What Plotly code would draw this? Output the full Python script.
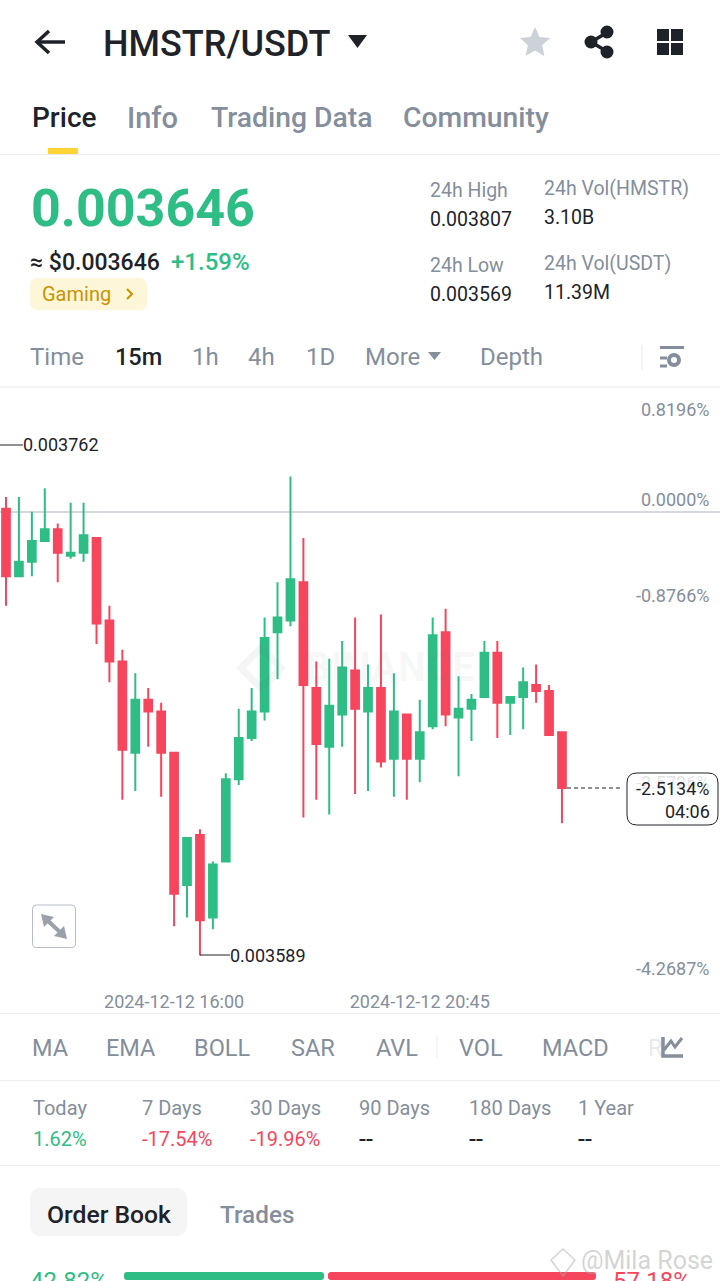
import math
import pandas
import plotly.graph_objects as go

W = 720
H = 1281
DARK = "#1E2329"
GREY = "#848E9C"
GREEN = "#2EBD85"
RED = "#F6465D"
LINE = "#EAECEF"
FONT = "Roboto"

# 15m candles, first one is 12:45
start_time = "2024-12-12 12:45"
opens = [0.003741, 0.003718, 0.003723, 0.003730, 0.003734, 0.003725, 0.003726, 0.003731, 0.003703, 0.003689, 0.003658,
         0.003676, 0.003672, 0.003658, 0.003613, 0.003630, 0.003602, 0.003621, 0.003649, 0.003663, 0.003672, 0.003699,
         0.003703, 0.003716, 0.003680, 0.003660, 0.003671, 0.003686, 0.003672, 0.003680, 0.003656, 0.003671, 0.003656,
         0.003667, 0.003699, 0.003670, 0.003673, 0.003677, 0.003692, 0.003675, 0.003677, 0.003681, 0.003679, 0.003665]
highs = [0.003745, 0.003745, 0.003740, 0.003748, 0.003736, 0.003743, 0.003743, 0.003731, 0.003708, 0.003693, 0.003685,
         0.003680, 0.003675, 0.003658, 0.003629, 0.003632, 0.003621, 0.003651, 0.003673, 0.003680, 0.003704, 0.003716,
         0.003752, 0.003731, 0.003689, 0.003690, 0.003696, 0.003704, 0.003688, 0.003705, 0.003685, 0.003671, 0.003676,
         0.003704, 0.003707, 0.003684, 0.003678, 0.003696, 0.003696, 0.003677, 0.003687, 0.003688, 0.003681, 0.003665]
lows = [0.003708, 0.003718, 0.003718, 0.003730, 0.003716, 0.003724, 0.003723, 0.003695, 0.003682, 0.003642, 0.003645,
        0.003660, 0.003643, 0.003599, 0.003602, 0.003589, 0.003598, 0.003621, 0.003647, 0.003662, 0.003669, 0.003683,
        0.003701, 0.003636, 0.003642, 0.003637, 0.003660, 0.003644, 0.003645, 0.003653, 0.003643, 0.003642, 0.003648,
        0.003666, 0.003667, 0.003650, 0.003662, 0.003677, 0.003663, 0.003664, 0.003666, 0.003675, 0.003664, 0.003634]
closes = [0.003718, 0.003723, 0.003730, 0.003734, 0.003726, 0.003726, 0.003732, 0.003702, 0.003689, 0.003659, 0.003676,
          0.003672, 0.003658, 0.003610, 0.003629, 0.003601, 0.003620, 0.003649, 0.003663, 0.003672, 0.003697, 0.003704,
          0.003717, 0.003681, 0.003661, 0.003674, 0.003687, 0.003673, 0.003680, 0.003655, 0.003672, 0.003656, 0.003665,
          0.003698, 0.003671, 0.003673, 0.003676, 0.003692, 0.003675, 0.003677, 0.003682, 0.003679, 0.003664, 0.003646]

base_price = 0.003740
last_price = 0.003646
high_mark = 0.003762
low_mark = 0.003589
pct_ticks = ["0.8196%", "0.0000%", "-0.8766%", "-2.5726%", "-4.2687%"]
pct_values = [0.8196, 0.0, -0.8766, -2.5726, -4.2687]
date_ticks = ["2024-12-12 16:00", "2024-12-12 20:45"]

stat_names = ["Today", "7 Days", "30 Days", "90 Days", "180 Days", "1 Year"]
stat_values = ["1.62%", "-17.54%", "-19.96%", "--", "--", "--"]


# everything outside the plot is placed in page pixels
def px(x):
    return x / W

def py(y):
    return 1 - y / H

annotations = []
shapes = []

def txt(x, y, s, size, color=GREY, weight=400, anchor="left"):
    # annotations carry about 1px of padding
    x = x + 1 if anchor == "right" else x - 1
    annotations.append(dict(x=px(x), y=py(y), xref="paper", yref="paper", text=s, showarrow=False,
                            xanchor=anchor, yanchor="middle", borderpad=0,
                            font=dict(family=FONT, size=size, color=color, weight=weight)))

def poly(points, fill=None, color=None, width=0, close=True):
    d = "M" + " L".join(f"{px(x):.5f},{py(y):.5f}" for x, y in points)
    if close:
        d += " Z"
    shapes.append(dict(type="path", xref="paper", yref="paper", path=d, fillcolor=fill,
                       line=dict(color=color, width=width)))

def hline(x0, x1, y, color=LINE, width=1, dash="solid"):
    shapes.append(dict(type="line", xref="paper", yref="paper", x0=px(x0), x1=px(x1), y0=py(y), y1=py(y),
                       line=dict(color=color, width=width, dash=dash)))

def vline(x, y0, y1, color=LINE, width=1):
    shapes.append(dict(type="line", xref="paper", yref="paper", x0=px(x), x1=px(x), y0=py(y0), y1=py(y1),
                       line=dict(color=color, width=width)))

def round_rect(x0, y0, x1, y1, r, fill=None, color=None, width=0):
    d = (f"M{px(x0 + r):.5f},{py(y0):.5f} L{px(x1 - r):.5f},{py(y0):.5f} Q{px(x1):.5f},{py(y0):.5f} {px(x1):.5f},{py(y0 + r):.5f} "
         f"L{px(x1):.5f},{py(y1 - r):.5f} Q{px(x1):.5f},{py(y1):.5f} {px(x1 - r):.5f},{py(y1):.5f} "
         f"L{px(x0 + r):.5f},{py(y1):.5f} Q{px(x0):.5f},{py(y1):.5f} {px(x0):.5f},{py(y1 - r):.5f} "
         f"L{px(x0):.5f},{py(y0 + r):.5f} Q{px(x0):.5f},{py(y0):.5f} {px(x0 + r):.5f},{py(y0):.5f} Z")
    shapes.append(dict(type="path", xref="paper", yref="paper", path=d, fillcolor=fill,
                       line=dict(color=color, width=width)))

def circle(x, y, r, fill=None, color=None, width=0):
    shapes.append(dict(type="circle", xref="paper", yref="paper", x0=px(x - r), x1=px(x + r), y0=py(y + r), y1=py(y - r),
                       fillcolor=fill, line=dict(color=color, width=width)))

# header
poly([(65, 42), (37, 42)], color=DARK, width=3.5, close=False)
poly([(49, 31), (37, 42), (49, 53)], color=DARK, width=3.5, close=False)
txt(103, 44, "HMSTR/USDT", 36, DARK, 500)
poly([(348, 35), (367, 35), (357.5, 48)], fill=DARK)
star = []
for i in range(10):
    r = 16 if i % 2 == 0 else 7.5
    a = -math.pi / 2 + i * math.pi / 5
    star.append((535 + r * math.cos(a), 43 + r * math.sin(a)))
poly(star, fill="#CDD2D9")
poly([(608, 32), (591, 42), (608, 52)], color=DARK, width=3.5, close=False)
circle(607, 32, 6.5, fill=DARK)
circle(591, 42, 6.5, fill=DARK)
circle(607, 52, 6.5, fill=DARK)
for x0 in (657, 671):
    for y0 in (29, 43):
        shapes.append(dict(type="rect", xref="paper", yref="paper", x0=px(x0), x1=px(x0 + 12), y0=py(y0), y1=py(y0 + 12),
                           fillcolor=DARK, line=dict(width=0)))

# tabs
txt(32, 118, "Price", 28, DARK, 500)
txt(127, 118, "Info", 29, GREY, 500)
txt(211, 118, "Trading Data", 28.3, GREY, 500)
txt(403, 118, "Community", 28.3, GREY, 500)
shapes.append(dict(type="rect", xref="paper", yref="paper", x0=px(48), x1=px(78), y0=py(148), y1=py(154),
                   fillcolor="#FCD535", line=dict(width=0)))
hline(0, 720, 154.5)

# price block
txt(31, 209, "0.003646", 52, GREEN, 700)
txt(30, 262, "≈ $0.003646", 23, DARK, 500)
txt(171, 262, "+1.59%", 24, GREEN, 500)
round_rect(30, 278, 147, 310, 8, fill="#FEF6D8")
txt(42, 294, "Gaming", 20, "#C99400")
poly([(127, 289), (132, 294), (127, 299)], color="#C99400", width=2, close=False)
txt(430, 191, "24h High", 19.5)
txt(430, 220, "0.003807", 19.5, DARK)
txt(544, 189, "24h Vol(HMSTR)", 19.5)
txt(544, 218, "3.10B", 19.5, DARK)
txt(430, 265, "24h Low", 19.5)
txt(430, 294, "0.003569", 19.5, DARK)
txt(544, 263, "24h Vol(USDT)", 19.5)
txt(544, 292, "11.39M", 19.5, DARK)

# interval row
txt(30, 357, "Time", 24)
txt(115, 357, "15m", 23.5, DARK, 500)
txt(192, 357, "1h", 24)
txt(248, 357, "4h", 24)
txt(306, 357, "1D", 24)
txt(365, 357, "More", 24)
poly([(428, 352), (441, 352), (434.5, 360)], fill=GREY)
txt(480, 357, "Depth", 24)
vline(642, 345, 370)
hline(660, 684, 347.5, GREY, 3)
hline(660, 667, 358, GREY, 3)
hline(660, 667, 366, GREY, 3)
circle(674, 360, 5, color=GREY, width=4)
hline(0, 720, 387)

# chart extras
txt(305, 667, "<b>BINANCE</b>", 40, "rgba(120,130,140,0.07)")
poly([(261, 648), (281, 668), (261, 688), (241, 668)], color="rgba(120,130,140,0.08)", width=7)
for s, v in zip(pct_ticks, pct_values):
    tick_color = "rgba(132,142,156,0.25)" if s == "-2.5726%" else GREY
    annotations.append(dict(x=px(712), y=base_price * (1 + v / 100), xref="paper", yref="y", text=s, showarrow=False,
                            xanchor="right", yanchor="bottom", font=dict(family=FONT, size=18, color=tick_color)))
# high / low marks
hline(0, 23, 445, DARK, 1)
txt(23, 445, f"{high_mark:.6f}", 18, DARK)
hline(200, 230, 955, DARK, 1)
txt(230, 955, f"{low_mark:.6f}", 18, DARK)
# last price tag
hline(567, 622, 788, DARK, 1, "4px,3px")
round_rect(627, 773, 718, 825, 10, fill="rgba(255,255,255,0.85)", color=DARK, width=1)
txt(710, 788, "-2.5134%", 18, DARK, anchor="right")
txt(710, 811, "04:06", 18, DARK, anchor="right")
# expand button
round_rect(32.5, 905, 75.5, 947.5, 4, fill="white", color="#B7BDC6", width=1)
poly([(41, 914), (54, 917), (44, 927)], fill="#9AA1AB")
poly([(67, 939), (54, 936), (64, 926)], fill="#9AA1AB")
poly([(47, 920), (61, 933)], color="#9AA1AB", width=4, close=False)
hline(0, 720, 1013.5)

# indicator row
for s, x in zip(["MA", "EMA", "BOLL", "SAR", "AVL", "VOL", "MACD"], [32, 106, 194, 291, 376, 459, 542]):
    txt(x, 1048, s, 23.5)
txt(648, 1048, "R", 24, "rgba(132,142,156,0.2)")
vline(437, 1036, 1058)
round_rect(658, 1030, 690, 1064, 2, fill="white")
poly([(663, 1037), (663, 1056), (683, 1056)], color=GREY, width=3.5, close=False)
poly([(664, 1050), (671, 1041), (675, 1047), (682, 1038)], color=GREY, width=3, close=False)
hline(0, 720, 1080.5)

# stats row
for name, value, x in zip(stat_names, stat_values, [33, 142, 250, 359, 469, 578]):
    txt(x, 1108, name, 20)
    c = DARK if value == "--" else (RED if value.startswith("-") else GREEN)
    txt(x, 1139, value, 25 if value == "--" else 20, c)
hline(0, 720, 1165.5)

# order book
round_rect(30, 1188, 187, 1236, 12, fill="#F5F5F5")
txt(47, 1214, "Order Book", 24.7, DARK, 500)
txt(220, 1214, "Trades", 24.3, GREY, 500)
txt(30, 1281, "42.82%", 24, GREEN)
round_rect(124, 1272, 324, 1280, 3, fill=GREEN)
round_rect(328, 1272, 596, 1280, 3, fill=RED)
txt(613, 1281, "57.18%", 24, RED)
txt(581, 1260, "@Mila Rose", 25, "rgba(170,170,170,0.5)")
poly([(551, 1260), (563, 1249), (575, 1260), (563, 1276)], color="rgba(170,170,170,0.5)", width=1.5)

times = pandas.date_range(start_time, periods=len(opens), freq="15min")

fig = go.Figure(go.Candlestick(
    x=times, open=opens, high=highs, low=lows, close=closes,
    increasing=dict(line=dict(color=GREEN, width=2), fillcolor=GREEN),
    decreasing=dict(line=dict(color=RED, width=2), fillcolor=RED),
    whiskerwidth=0,
))
fig.update_layout(
    width=W, height=H, margin=dict(l=0, r=0, t=0, b=0), paper_bgcolor="white", plot_bgcolor="white",
    showlegend=False, boxgap=0.15, annotations=annotations, shapes=shapes,
    font=dict(family=FONT),
)
fig.update_xaxes(
    domain=[0, 1], range=["2024-12-12 12:38:02", "2024-12-13 02:33:20"], rangeslider_visible=False,
    tickmode="array", tickvals=date_ticks, ticktext=date_ticks, ticklabelposition="inside", ticks="",
    showgrid=False, zeroline=False, tickfont=dict(family=FONT, size=18, color=GREY),
)
fig.update_yaxes(
    domain=[py(1015), py(387)], range=[0.0035688, 0.0037824], showticklabels=False, ticks="",
    tickmode="array", tickvals=[base_price], showgrid=True, gridcolor="#D5D9DE", gridwidth=1.5, zeroline=False,
)
fig.write_html("out.html", config=dict(displayModeBar=False), post_script="document.body.style.margin='0';")
